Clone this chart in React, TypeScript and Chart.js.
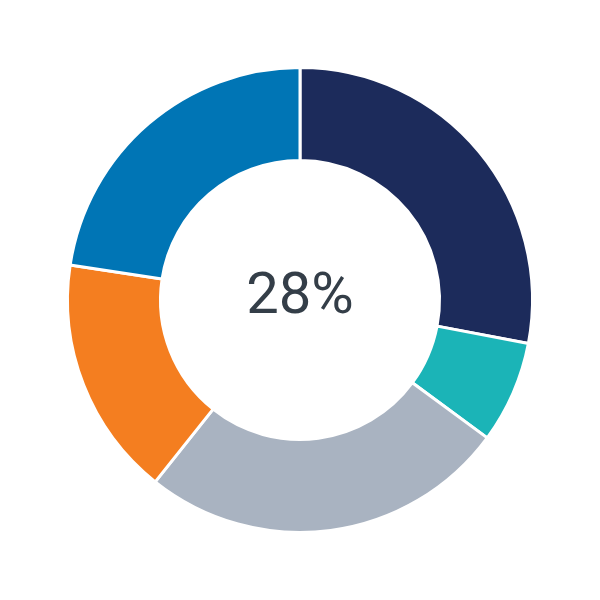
import React, { useRef, useEffect } from "react";
import Chart, { ChartOptions, Plugin } from "chart.js/auto";

const labels = ["Segment A", "Segment B", "Segment C", "Segment D", "Segment E"];
const shares = [28, 7.1, 25.6, 16.7, 22.6];
const colors = ["#1c2b5b", "#1bb4b7", "#a9b3c1", "#f47e20", "#0075b5"];
const centerText = "28%";

const centerLabel: Plugin<"doughnut"> = {
  id: "centerLabel",
  afterDraw(chart) {
    const { ctx, chartArea } = chart;
    const x = (chartArea.left + chartArea.right) / 2;
    const y = (chartArea.top + chartArea.bottom) / 2;
    ctx.save();
    ctx.font = "400 58px Roboto, 'Noto Sans', sans-serif";
    ctx.fillStyle = "#343e48";
    ctx.textAlign = "center";
    ctx.textBaseline = "middle";
    ctx.fillText(centerText, x, y - 2);
    ctx.restore();
  },
};

export default function App() {
  const chartRef = useRef<HTMLCanvasElement | null>(null);
  const chartInstanceRef = useRef<Chart | null>(null);

  useEffect(() => {
    if (chartRef.current) {
      const ctx = chartRef.current.getContext("2d");
      if (ctx) {
        if (chartInstanceRef.current) {
          chartInstanceRef.current.destroy();
        }
        chartInstanceRef.current = new Chart(ctx, {
          type: "doughnut",
          data: {
            labels,
            datasets: [
              {
                data: shares,
                backgroundColor: colors,
                borderColor: "#ffffff",
                borderWidth: 3,
              },
            ],
          },
          options: {
            animation: false,
            responsive: true,
            maintainAspectRatio: false,
            cutout: "60%",
            layout: { padding: 66 },
            plugins: {
              legend: { display: false },
              tooltip: { enabled: false },
            },
          } as ChartOptions<"doughnut">,
          plugins: [centerLabel],
        });
      }
    }

    return () => {
      if (chartInstanceRef.current) {
        chartInstanceRef.current.destroy();
        chartInstanceRef.current = null;
      }
    };
  }, []);

  return (
    <div style={{ position: "fixed", left: 0, top: 0, width: 600, height: 600, background: "#fff" }}>
      <canvas ref={chartRef} />
    </div>
  );
}
